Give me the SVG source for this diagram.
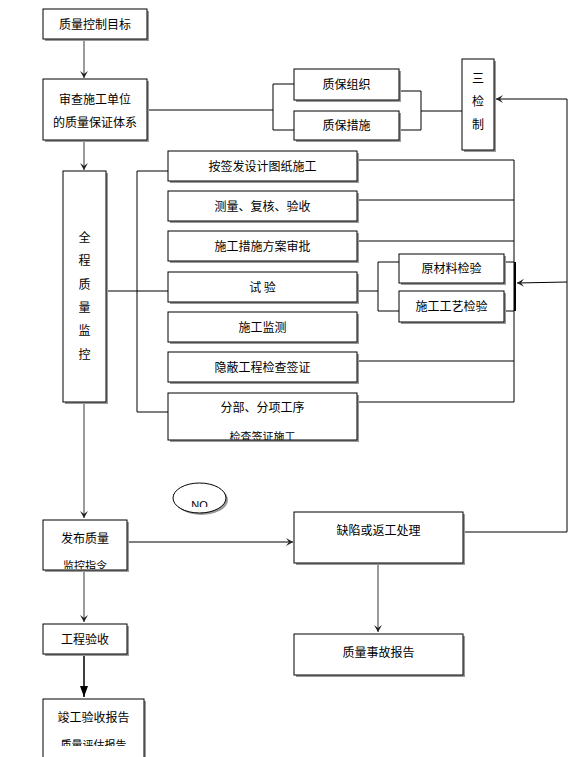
<svg xmlns="http://www.w3.org/2000/svg" width="580" height="757" viewBox="0 0 580 757">
<style>
.b{fill:#fff;stroke:#000;stroke-width:1}
.s{fill:#9a9a9a}
.t{font-family:"Noto Sans CJK SC","Liberation Sans",sans-serif;font-size:12px;fill:#000;text-anchor:middle}
.t2{font-family:"Noto Sans CJK SC","Liberation Sans",sans-serif;font-size:11px;fill:#000;text-anchor:middle}
.c{fill:none;stroke:#000;stroke-width:1}
.g{fill:none;stroke:#7a7a7a;stroke-width:1.5}
</style>
<defs>
<marker id="av" markerWidth="8" markerHeight="10" refX="7" refY="5" orient="auto" markerUnits="userSpaceOnUse">
<path d="M0,1 L7,5 L0,9 L3,5 Z" fill="#222"/>
</marker>
<marker id="ab" markerWidth="12" markerHeight="8" refX="11" refY="4" orient="auto" markerUnits="userSpaceOnUse">
<path d="M0,0 L11,4 L0,8 Z" fill="#000"/>
</marker>
<clipPath id="k1"><rect x="168" y="393" width="190" height="47"/></clipPath>
<clipPath id="k2"><rect x="43" y="520" width="84" height="49"/></clipPath>
<clipPath id="k3"><rect x="43" y="699" width="102" height="47"/></clipPath>
<clipPath id="k4"><rect x="170" y="480" width="60" height="27"/></clipPath>
</defs>

<g id="connectors">
<path class="g" d="M84,39 V78" marker-end="url(#av)"/>
<path class="g" d="M84,140 V170" marker-end="url(#av)"/>
<path class="c" d="M147,110 H273 M273,84 V130 M273,84 H294 M273,130 H294"/>
<path class="c" d="M399,91 H421 V130 H399 M421,111 H462"/>
<path class="c" d="M463,532 H567 V99 H496" marker-end="url(#av)"/>
<path class="c" d="M168,171 H137 V412 H168 M106,291 H168"/>
<path class="c" d="M357,160 H514 V402 H357 M357,200 H514 M357,241 H514 M357,361 H514"/>
<path class="c" d="M357,291 H378 M378,262 V311 M378,262 H399 M378,311 H399"/>
<path class="c" d="M504,262 H514 M504,311 H514"/>
<path d="M515,262 V311" stroke="#000" stroke-width="2"/>
<path class="c" d="M567,282 L517,283" marker-end="url(#av)"/>
<path class="g" d="M84,402 V518" marker-end="url(#av)"/>
<path class="c" d="M127,542 H293" marker-end="url(#av)"/>
<path class="g" d="M378,563 V632" marker-end="url(#av)"/>
<path class="g" d="M84,570 V622" marker-end="url(#av)"/>
<path d="M84,654 V697" stroke="#000" stroke-width="1.5" fill="none" marker-end="url(#ab)"/>
</g>

<g id="n1"><rect class="s" x="45" y="11" width="104" height="30"/><rect class="b" x="43" y="9" width="104" height="30"/><text class="t" x="95" y="28.5">质量控制目标</text></g>
<g id="n2"><rect class="s" x="45" y="81" width="104" height="61"/><rect class="b" x="43" y="79" width="104" height="61"/><text class="t" x="95" y="103.5">审查施工单位</text><text class="t" x="95" y="126.5">的质量保证体系</text></g>
<g id="n3"><rect class="s" x="296" y="71" width="105" height="31"/><rect class="b" x="294" y="69" width="105" height="31"/><text class="t" x="346.5" y="89">质保组织</text></g>
<g id="n4"><rect class="s" x="296" y="113" width="105" height="29"/><rect class="b" x="294" y="111" width="105" height="29"/><text class="t" x="346.5" y="130">质保措施</text></g>
<g id="n5"><rect class="s" x="464" y="61" width="32" height="91"/><rect class="b" x="462" y="59" width="32" height="91"/><text class="t" x="478" y="83">三</text><text class="t" x="478" y="106">检</text><text class="t" x="478" y="129">制</text></g>
<g id="n6"><rect class="s" x="65" y="173" width="43" height="231"/><rect class="b" x="63" y="171" width="43" height="231"/>
<text class="t" x="84.5" y="242">全</text><text class="t" x="84.5" y="265">程</text><text class="t" x="84.5" y="288.5">质</text><text class="t" x="84.5" y="312">量</text><text class="t" x="84.5" y="335">监</text><text class="t" x="84.5" y="358.5">控</text></g>
<g id="n7"><rect class="s" x="170" y="153" width="189" height="30"/><rect class="b" x="168" y="151" width="189" height="30"/><text class="t" x="262.5" y="170.5">按签发设计图纸施工</text></g>
<g id="n8"><rect class="s" x="170" y="193" width="189" height="30"/><rect class="b" x="168" y="191" width="189" height="30"/><text class="t" x="262.5" y="210.5">测量、复核、验收</text></g>
<g id="n9"><rect class="s" x="170" y="233" width="189" height="30"/><rect class="b" x="168" y="231" width="189" height="30"/><text class="t" x="262.5" y="250.5">施工措施方案审批</text></g>
<g id="n10"><rect class="s" x="170" y="274" width="189" height="30"/><rect class="b" x="168" y="272" width="189" height="30"/><text class="t" x="262.5" y="291.5">试 验</text></g>
<g id="n11"><rect class="s" x="170" y="314" width="189" height="30"/><rect class="b" x="168" y="312" width="189" height="30"/><text class="t" x="262.5" y="331.5">施工监测</text></g>
<g id="n12"><rect class="s" x="170" y="354" width="189" height="30"/><rect class="b" x="168" y="352" width="189" height="30"/><text class="t" x="262.5" y="371.5">隐蔽工程检查签证</text></g>
<g id="n13"><rect class="s" x="170" y="395" width="189" height="47"/><rect class="b" x="168" y="393" width="189" height="47"/><text class="t" x="262.5" y="412">分部、分项工序</text><text class="t2" x="262.5" y="441" clip-path="url(#k1)">检查签证施工</text></g>
<g id="n14"><rect class="s" x="401" y="256" width="105" height="29"/><rect class="b" x="399" y="254" width="105" height="29"/><text class="t" x="451.5" y="273">原材料检验</text></g>
<g id="n15"><rect class="s" x="401" y="293" width="105" height="31"/><rect class="b" x="399" y="291" width="105" height="31"/><text class="t" x="451.5" y="311">施工工艺检验</text></g>
<g id="n16"><ellipse class="s" cx="201.5" cy="500" rx="26.5" ry="15"/><ellipse class="b" cx="199.5" cy="498" rx="26.5" ry="15"/><text x="199.5" y="509" clip-path="url(#k4)" style="font-family:'Liberation Sans',sans-serif;font-size:11px;text-anchor:middle;fill:#000">NO</text></g>
<g id="n17"><rect class="s" x="45" y="522" width="84" height="50"/><rect class="b" x="43" y="520" width="84" height="50"/><text class="t" x="85" y="543">发布质量</text><text class="t2" x="85" y="570" clip-path="url(#k2)">监控指令</text></g>
<g id="n18"><rect class="s" x="296" y="514" width="169" height="51"/><rect class="b" x="294" y="512" width="169" height="51"/><text class="t" x="378.5" y="535">缺陷或返工处理</text></g>
<g id="n19"><rect class="s" x="296" y="636" width="169" height="41"/><rect class="b" x="294" y="634" width="169" height="41"/><text class="t" x="378.5" y="656.5">质量事故报告</text></g>
<g id="n20"><rect class="s" x="45" y="626" width="84" height="30"/><rect class="b" x="43" y="624" width="84" height="30"/><text class="t" x="85" y="643.5">工程验收</text></g>
<g id="n21"><rect class="s" x="45" y="701" width="101" height="60"/><rect class="b" x="43" y="699" width="101" height="60"/><text class="t" x="93.5" y="721.5">竣工验收报告</text><text class="t2" x="93.5" y="749" clip-path="url(#k3)">质量评估报告</text></g>
</svg>
